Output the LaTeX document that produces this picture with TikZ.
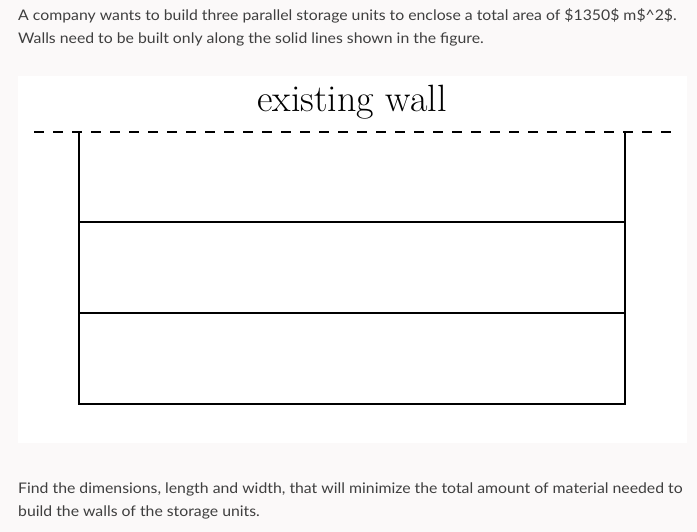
\documentclass[tikz,border=0pt]{standalone}
\usepackage{fontspec}
\newfontfamily\uifont[FakeStretch=1.082]{Lato}
\definecolor{pagebg}{HTML}{FBF9F9}
\definecolor{txtgray}{HTML}{3F3F3F}
\begin{document}
\begin{tikzpicture}[x=1pt,y=-1pt,
  uitext/.style={anchor=base west,inner sep=0pt,text=txtgray,font=\uifont\fontsize{14.6}{18}\selectfont},
  wall/.style={line width=1.4pt,black},
  oldwall/.style={line width=1.4pt,black,dash pattern=on 10pt off 9pt}]
\fill[pagebg] (0,0) rectangle (697,532);
\useasboundingbox (0,0) rectangle (697,532);
\fill[white] (18,76) rectangle (687,443);
\node[uitext] (t1) at (18,21) {A company wants to build three parallel storage units to enclose a total area of \$1350\$ m\$\^{}2\$.};
\node[uitext] (t2) at (18,44) {Walls need to be built only along the solid lines shown in the figure.};
\node[uitext] (t3) at (18,493) {Find the dimensions, length and width, that will minimize the total amount of material needed to};
\node[uitext] (t4) at (18,516) {build the walls of the storage units.};
\node[anchor=base,inner sep=0pt,font=\fontsize{38}{42}\selectfont] (lbl) at (352,112) {existing wall};
\coordinate (dl) at (34,132);
\coordinate (dr) at (672,132);
\coordinate (tl) at (79,132);
\coordinate (tr) at (625,132);
\coordinate (bl) at (79,404);
\coordinate (br) at (625,404);
\coordinate (m1l) at (79,222);
\coordinate (m1r) at (625,222);
\coordinate (m2l) at (79,313);
\coordinate (m2r) at (625,313);
\draw[oldwall] (dl) -- (dr);
\draw[wall] (tl) -- (bl) -- (br) -- (tr);
\draw[wall] (m1l) -- (m1r);
\draw[wall] (m2l) -- (m2r);
\end{tikzpicture}
\end{document}
